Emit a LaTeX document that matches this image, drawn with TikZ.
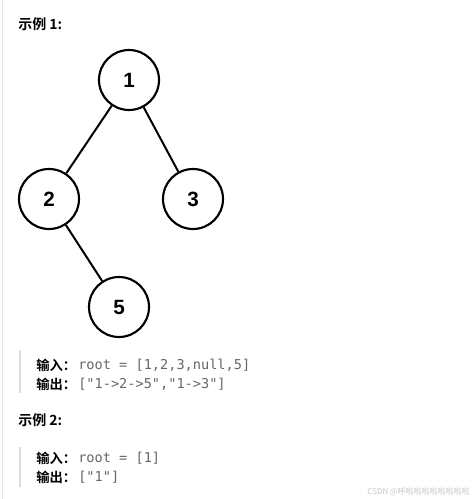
\documentclass[tikz,border=0pt]{standalone}
\usepackage{fontspec}
\setmainfont{Liberation Sans}
\newfontfamily\cjk{Noto Sans CJK SC}
\newfontfamily\cjkb{Noto Sans CJK SC Bold}
\newfontfamily\codefont{DejaVu Sans Mono}
\definecolor{barg}{HTML}{DDDDDD}
\definecolor{codeg}{HTML}{666666}
\definecolor{wmg}{HTML}{C8C8C8}
\begin{document}
\begin{tikzpicture}[x=0.75pt,y=-0.75pt,
  tnode/.style={circle,draw=black,line width=1.6pt,minimum size=45pt,inner sep=0pt,font=\fontsize{15.5pt}{18pt}\selectfont\bfseries},
  edge/.style={line width=1.5pt},
  head/.style={anchor=west,inner sep=0pt,font=\fontsize{10.5pt}{12pt}\selectfont\cjkb},
  lbl/.style={anchor=west,inner sep=0pt,font=\fontsize{10pt}{12pt}\selectfont\cjkb},
  code/.style={anchor=west,inner sep=0pt,text=codeg,font=\fontsize{10.2pt}{12pt}\selectfont\codefont},
  bar/.style={draw=barg,line width=1.5pt}]
\useasboundingbox (0,0) rectangle (474,499);
\fill[white] (0,0) rectangle (474,499);
\draw[draw=barg!70,line width=0.8pt] (2.5,0) -- (2.5,499);
% header 1
\node[head] (h1) at (18,24) {示例 1:};
% tree
\node[tnode] (n1) at (129,80) {1};
\node[tnode] (n2) at (49,199) {2};
\node[tnode] (n3) at (193,199) {3};
\node[tnode] (n5) at (119,307) {5};
\draw[edge] (n1) -- (n2);
\draw[edge] (n1) -- (n3);
\draw[edge] (n2) -- (n5);
% example 1 block
\coordinate (b1t) at (20,350);
\coordinate (b1b) at (20,393);
\draw[bar] (b1t) -- (b1b);
\node[lbl] (i1) at (36,365) {输入：};
\node[code] (c1) at (78,365) {root = [1,2,3,null,5]};
\node[lbl] (o1) at (36,384) {输出：};
\node[code] (d1) at (78,384) {["1->2->5","1->3"]};
% header 2
\node[head] (h2) at (18,420) {示例 2:};
% example 2 block
\coordinate (b2t) at (20,447);
\coordinate (b2b) at (20,487);
\draw[bar] (b2t) -- (b2b);
\node[lbl] (i2) at (36,458) {输入：};
\node[code] (c2) at (78,458) {root = [1]};
\node[lbl] (o2) at (36,477) {输出：};
\node[code] (d2) at (78,477) {["1"]};
% watermark
\node[anchor=east,inner sep=0pt,text=wmg,font=\fontsize{6pt}{7pt}\selectfont\cjk] (wm) at (470,492) {CSDN @呼啦啦啦啦啦啦啦啦};
\end{tikzpicture}
\end{document}
